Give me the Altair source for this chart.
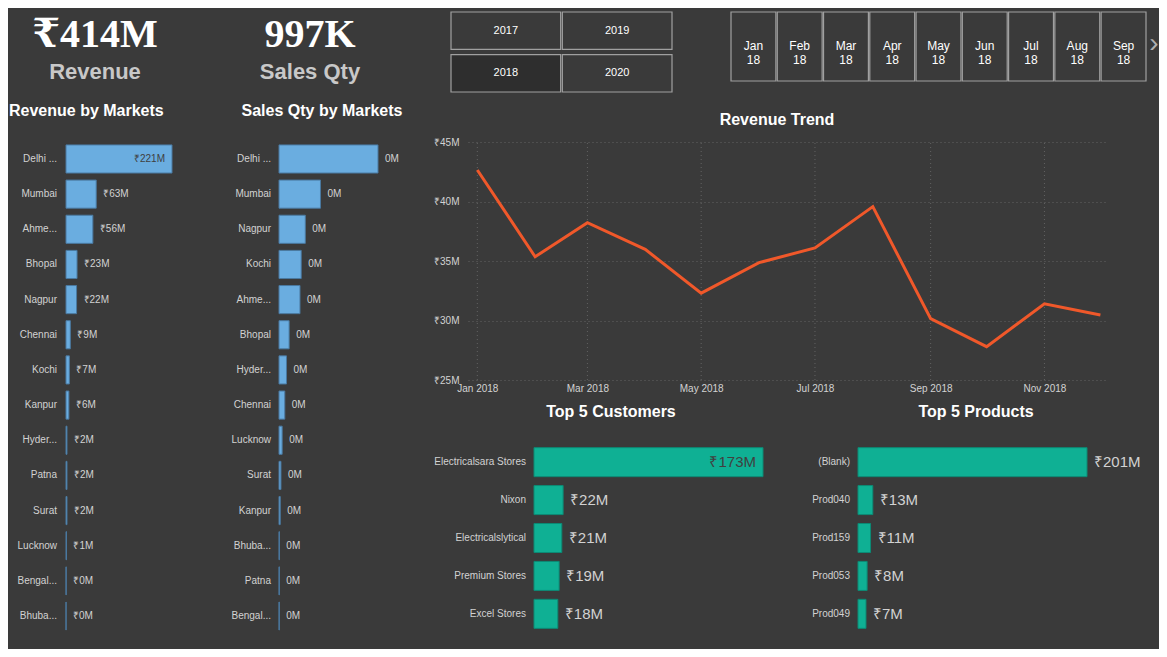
import altair as alt
import pandas as pd

# ---------------- data ----------------
years = ["2017", "2018", "2019", "2020"]
selected_year = "2018"
slicer_months = ["Jan", "Feb", "Mar", "Apr", "May", "Jun", "Jul", "Aug", "Sep"]
slicer_year_suffix = "18"

rev_markets = ["Delhi ...", "Mumbai", "Ahme...", "Bhopal", "Nagpur", "Chennai", "Kochi",
               "Kanpur", "Hyder...", "Patna", "Surat", "Lucknow", "Bengal...", "Bhuba..."]
rev_values_m = [221, 63, 56, 23, 22, 9, 7, 6, 2, 2, 2, 1, 0.3, 0.1]

qty_markets = ["Delhi ...", "Mumbai", "Nagpur", "Kochi", "Ahme...", "Bhopal", "Hyder...",
               "Chennai", "Lucknow", "Surat", "Kanpur", "Bhuba...", "Patna", "Bengal..."]
qty_values = [410500, 172000, 109000, 92000, 87000, 42000, 31000,
              24000, 13000, 8000, 5000, 1500, 1200, 1000]

trend_months = ["2018-01-01", "2018-02-01", "2018-03-01", "2018-04-01", "2018-05-01", "2018-06-01",
                "2018-07-01", "2018-08-01", "2018-09-01", "2018-10-01", "2018-11-01", "2018-12-01"]
trend_values_m = [42.65, 35.36, 38.22, 35.98, 32.30, 34.86, 36.10, 39.57, 30.15, 27.80, 31.40, 30.46]
trend_tick_months = ["2018-01-01", "2018-03-01", "2018-05-01", "2018-07-01", "2018-09-01", "2018-11-01"]
trend_tick_values_m = [25, 30, 35, 40, 45]

customers = ["Electricalsara Stores", "Nixon", "Electricalslytical", "Premium Stores", "Excel Stores"]
customer_values_m = [173, 22, 21, 19, 18]

products = ["(Blank)", "Prod040", "Prod159", "Prod053", "Prod049"]
product_values_m = [201, 13, 11, 8, 7]

# ---------------- style ----------------
BG = "#3a3a3a"
SANS = "Segoe UI, Liberation Sans, Arial, sans-serif"
BOLD = "Liberation Sans, Arial, sans-serif"
SERIF = "Liberation Serif, Times New Roman, DejaVu Serif, serif"
BLUE = "#6aade0"
BLUE_EDGE = "#4a79a0"
TEAL = "#0fb094"
TEAL_EDGE = "#0c8a75"
ORANGE = "#f0582a"
LABEL = "#d2d2d2"
GRID = "#626262"
W, H = 1151, 641


def text_item(txt, x, y, size, color, weight="normal", align="center", font=SANS, baseline="middle"):
    return alt.Chart(pd.DataFrame({"t": [txt]})).mark_text(
        align=align, baseline=baseline, fontSize=size, color=color, fontWeight=weight, font=font
    ).encode(x=alt.value(x), y=alt.value(y), text="t:N")


def hbar_panel(cats, vals, xr, yr, pad, color, edge, cat_x, cat_size, val_size, fmt, top_inside):
    df = pd.DataFrame({"cat": cats, "v": vals})
    base = alt.Chart(df).transform_calculate(lbl=fmt)
    y = alt.Y("cat:N", sort=cats, axis=None, title=None,
              scale=alt.Scale(type="band", range=yr, paddingInner=pad, paddingOuter=pad / 2))
    x = alt.X("v:Q", axis=None, title=None,
              scale=alt.Scale(domain=[0, max(vals)], range=xr, nice=False, zero=True))
    bars = base.mark_bar(color=color, stroke=edge, strokeWidth=1).encode(x=x, y=y)
    cat_text = base.mark_text(align="right", baseline="middle", font=SANS, fontSize=cat_size,
                              color=LABEL).encode(x=alt.value(cat_x), y=y, text="cat:N")
    top = max(vals)
    if top_inside:
        outside = base.transform_filter(f"datum.v < {top}")
        inside = base.transform_filter(f"datum.v >= {top}").mark_text(
            align="right", baseline="middle", dx=-7, font=SANS, fontSize=val_size, color="#404040"
        ).encode(x=x, y=y, text="lbl:N")
    else:
        outside = base
        inside = None
    out_text = outside.mark_text(align="left", baseline="middle", dx=7, font=SANS,
                                 fontSize=val_size, color=LABEL).encode(x=x, y=y, text="lbl:N")
    layers = [bars, cat_text, out_text]
    if inside is not None:
        layers.append(inside)
    return alt.layer(*layers)


# ---------------- KPI cards ----------------
total_rev = sum(rev_values_m)
total_qty = sum(qty_values)
kpis = [
    text_item(f"₹{total_rev:.0f}M", 87, 39, 40, "#ffffff", "bold", font=SERIF, baseline="alphabetic"),
    text_item("Revenue", 87, 71, 22, "#c8c8c8", "bold", font=BOLD, baseline="alphabetic"),
    text_item(f"{total_qty / 1000:.0f}K", 302, 39, 40, "#ffffff", "bold", font=SERIF, baseline="alphabetic"),
    text_item("Sales Qty", 302, 71, 22, "#c8c8c8", "bold", font=BOLD, baseline="alphabetic"),
]

# ---------------- year slicer ----------------
ydf = pd.DataFrame({"year": years,
                    "col": [i // 2 for i in range(len(years))],
                    "row": [i % 2 for i in range(len(years))]})
yx = alt.X("col:O", axis=None, title=None,
           scale=alt.Scale(type="band", range=[443, 664], paddingInner=0.015, paddingOuter=0))
yy = alt.Y("row:O", axis=None, title=None,
           scale=alt.Scale(type="band", range=[4, 84], paddingInner=0.125, paddingOuter=0))
year_rect = alt.Chart(ydf).mark_rect(stroke="#a0a0a0", strokeWidth=1.2).encode(
    x=yx, y=yy,
    fill=alt.condition(f"datum.year == '{selected_year}'", alt.value("#2e2e2e"), alt.value(BG)))
year_text = alt.Chart(ydf).mark_text(fontSize=11, color="#ffffff", font=SANS).encode(
    x=yx, y=yy, text="year:N")
year_slicer = alt.layer(year_rect, year_text)

# ---------------- month slicer ----------------
mdf = pd.DataFrame({"m": slicer_months,
                    "lbl": [f"{m}\n{slicer_year_suffix}" for m in slicer_months]})
mx = alt.X("m:N", sort=slicer_months, axis=None, title=None,
           scale=alt.Scale(type="band", range=[723, 1138], paddingInner=0.03, paddingOuter=0))
month_rect = alt.Chart(mdf).mark_rect(stroke="#a0a0a0", strokeWidth=1.2, fill=BG).encode(
    x=mx, y=alt.value(4), y2=alt.value(73))
month_text = alt.Chart(mdf).mark_text(fontSize=12, color="#ffffff", font=SANS, lineBreak="\n",
                                      lineHeight=14, baseline="middle").encode(
    x=mx, y=alt.value(38), text="lbl:N")
month_slicer = alt.layer(month_rect, month_text)
chevron = text_item("›", 1146, 36, 28, "#b0b0b0")

# ---------------- titles ----------------
titles = [
    text_item("Revenue by Markets", 1, 103, 16, "#ffffff", "bold", align="left", font=BOLD),
    text_item("Sales Qty by Markets", 314, 103, 16, "#ffffff", "bold", font=BOLD),
    text_item("Revenue Trend", 769, 112, 16, "#ffffff", "bold", font=BOLD),
    text_item("Top 5 Customers", 603, 404, 16, "#ffffff", "bold", font=BOLD),
    text_item("Top 5 Products", 968, 404, 16, "#ffffff", "bold", font=BOLD),
]

# ---------------- market bars ----------------
rev_panel = hbar_panel(rev_markets, rev_values_m, [58, 164], [133.4, 625.6], 0.2, BLUE, BLUE_EDGE,
                       49, 10, 10, "'₹' + format(datum.v, '.0f') + 'M'", True)
qty_panel = hbar_panel(qty_markets, qty_values, [271, 370], [133.4, 625.6], 0.2, BLUE, BLUE_EDGE,
                       263, 10, 10, "format(datum.v / 1000000, '.0f') + 'M'", False)
cust_panel = hbar_panel(customers, customer_values_m, [526, 755], [435.2, 624.8], 0.235, TEAL, TEAL_EDGE,
                        518, 10, 15, "'₹' + format(datum.v, '.0f') + 'M'", True)
prod_panel = hbar_panel(products, product_values_m, [850, 1079], [435.2, 624.8], 0.235, TEAL, TEAL_EDGE,
                        842, 10, 15, "'₹' + format(datum.v, '.0f') + 'M'", False)

# ---------------- revenue trend ----------------
def utc_date(s):
    yv, mv, dv = (int(p) for p in s.split("-"))
    return alt.DateTime(year=yv, month=mv, date=dv, utc=True)


tdf = pd.DataFrame({"month": trend_months, "rev": trend_values_m})
ticks_df = pd.DataFrame({"month": trend_tick_months})
trend_x = alt.X(
    "month:T", title=None,
    scale=alt.Scale(type="utc",
                    domain=[alt.DateTime(year=2017, month=12, date=27, utc=True),
                            alt.DateTime(year=2018, month=12, date=4, utc=True)],
                    range=[460, 1098]),
    axis=alt.Axis(values=[utc_date(s) for s in trend_tick_months],
                  format="%b %Y", orient="bottom", offset=-(H - 372), domain=False, ticks=False,
                  tickSize=0, labelPadding=3, grid=False,
                  labelColor=LABEL, labelFontSize=10, labelFont=SANS, labelFlush=False),
)
trend_y = alt.Y(
    "rev:Q", title=None,
    scale=alt.Scale(domain=[25, 45], range=[372, 134], nice=False, zero=False),
    axis=alt.Axis(values=trend_tick_values_m, labelExpr="'₹' + datum.value + 'M'", orient="left",
                  offset=-460, domain=False, ticks=False, tickSize=0, labelPadding=9, grid=True,
                  gridDash=[1, 3], gridColor=GRID, labelColor=LABEL, labelFontSize=10, labelFont=SANS),
)
vgrid = alt.Chart(ticks_df).mark_rule(color=GRID, strokeDash=[1, 3], strokeWidth=1).encode(
    x=trend_x,
    y=alt.datum(min(trend_tick_values_m)),
    y2=alt.datum(max(trend_tick_values_m)),
)
trend_line = alt.Chart(tdf).mark_line(color=ORANGE, strokeWidth=3).encode(x=trend_x, y=trend_y)
trend = alt.layer(vgrid, trend_line)

# ---------------- assemble ----------------
chart = alt.layer(
    *kpis, year_slicer, month_slicer, chevron, *titles,
    rev_panel, qty_panel, trend, cust_panel, prod_panel,
).resolve_scale(
    x="independent", y="independent"
).properties(
    width=W, height=H, autosize=alt.AutoSizeParams(type="none"), padding=0, background=BG
).configure_view(
    strokeWidth=0
)

chart.save("out.html", embed_options={"renderer": "svg", "actions": False})
